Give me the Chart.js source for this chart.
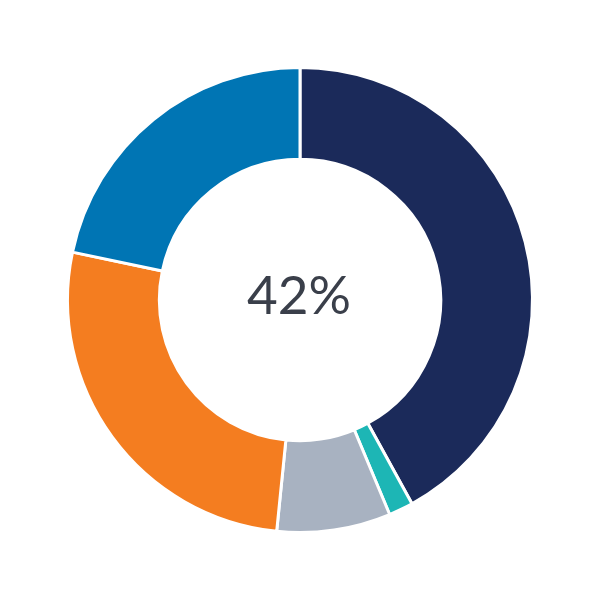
<!DOCTYPE html>
<html>
<head>
<meta charset="utf-8">
<script src="https://cdn.jsdelivr.net/npm/chart.js@4"></script>
<style>
  html, body { margin: 0; padding: 0; background: #fff; }
  #wrap { position: relative; width: 600px; height: 600px; }
</style>
</head>
<body>
<div id="wrap"><canvas id="donut" width="600" height="600"></canvas></div>
<script>
  const labels = ['Navy', 'Teal', 'Gray', 'Orange', 'Blue'];
  const values = [42.0, 1.7, 7.9, 26.7, 21.7];
  const colors = ['#1b2a5a', '#1db6b5', '#a8b2c1', '#f47d20', '#0075b4'];
  const centerText = '42%';

  const centerLabel = {
    id: 'centerLabel',
    afterDraw(chart) {
      const { ctx, chartArea } = chart;
      const cx = (chartArea.left + chartArea.right) / 2;
      const cy = (chartArea.top + chartArea.bottom) / 2;
      ctx.save();
      ctx.font = '400 53px Lato, "Open Sans", sans-serif';
      ctx.fillStyle = '#3a3f4a';
      ctx.textAlign = 'center';
      ctx.textBaseline = 'middle';
      ctx.fillText(centerText, cx - 1, cy - 3);
      ctx.restore();
    }
  };

  new Chart(document.getElementById('donut'), {
    type: 'doughnut',
    data: { labels, datasets: [{ data: values, backgroundColor: colors, borderColor: '#fff', borderWidth: 3, hoverOffset: 0 }] },
    options: {
      responsive: false, animation: false, cutout: '60.5%',
      layout: { padding: 66 },
      plugins: { legend: { display: false }, tooltip: { enabled: false } }
    },
    plugins: [centerLabel]
  });
</script>
</body>
</html>
